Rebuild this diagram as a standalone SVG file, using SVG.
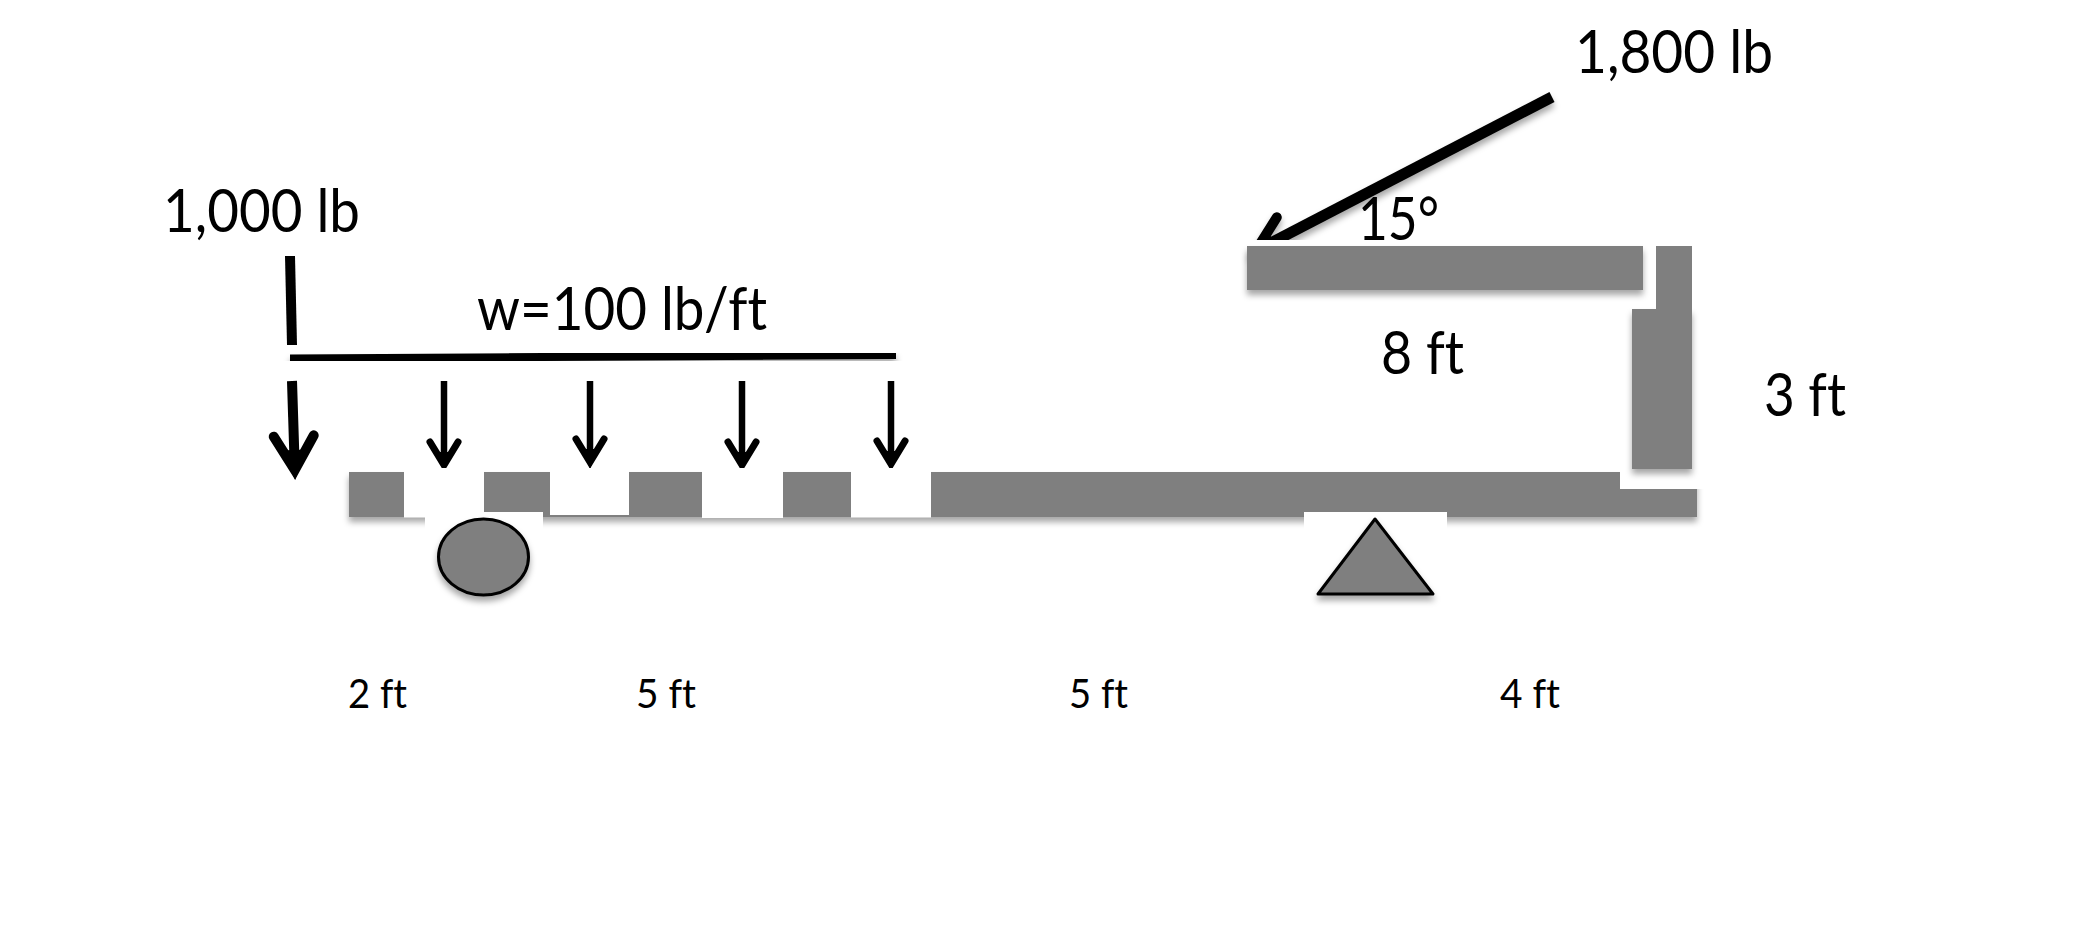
<svg xmlns="http://www.w3.org/2000/svg" width="2077" height="925" viewBox="0 0 2077 925">
<style>
text{font-family:Lato,"Open Sans","Liberation Sans",sans-serif;fill:#000;font-variant-ligatures:none}
.lg{font-size:60px}
.sm{font-size:41px}
.g{fill:#7f7f7f}
.w{fill:#fff}
.o{stroke:#000;stroke-width:3;fill:#7f7f7f}
.sh{filter:url(#shadow)}
.a{fill:none;stroke:#000;stroke-width:6.500}
.al{fill:none;stroke:#000;stroke-width:10}
.ad{fill:none;stroke:#000;stroke-width:11}
</style>
<defs>
<filter id="shadow" x="-20%" y="-30%" width="140%" height="180%"><feDropShadow dx="0" dy="5" stdDeviation="3" flood-color="#000" flood-opacity="0.35"/></filter>
<marker id="hs" markerUnits="userSpaceOnUse" viewBox="-40 -22 48 44" markerWidth="48" markerHeight="44" refX="-12" refY="0" orient="auto"><path d="M-19,-7.500L1,0L-19,7.500Z" fill="#000"/><path d="M-29,-14L-6,0L-29,14" fill="none" stroke="#000" stroke-width="7" stroke-linecap="round" stroke-miterlimit="10"/></marker>
<marker id="hl" markerUnits="userSpaceOnUse" viewBox="-56 -30 64 60" markerWidth="64" markerHeight="60" refX="-24" refY="0" orient="auto"><path d="M-28,-12L2,0L-28,12Z" fill="#000"/><path d="M-42,-20L-8,0L-42,20" fill="none" stroke="#000" stroke-width="10" stroke-linecap="round" stroke-miterlimit="10"/></marker>
</defs>
<rect width="2077" height="925" fill="#fff"/>
<g id="connectors">
<path class="al" d="M290,256L292,345"/>
<path class="al" marker-end="url(#hl)" d="M292,381L294.300,454"/>
<path class="a" marker-end="url(#hs)" d="M444,381V459"/>
<path class="a" marker-end="url(#hs)" d="M590,381V456"/>
<path class="a" marker-end="url(#hs)" d="M742,381V459"/>
<path class="a" marker-end="url(#hs)" d="M891,381V458"/>
<path class="ad sh" marker-end="url(#hl)" d="M1552,97L1270,243.400"/>
</g>
<g id="load-line"><path class="sh" d="M290,358.500L896,355" fill="none" stroke="#000" stroke-width="8"/></g>
<g id="beam">
<rect class="g sh" x="349" y="472" width="1348" height="45"/>
<rect class="w" x="404" y="468" width="80" height="49.500"/>
<rect class="w" x="550" y="468" width="79" height="47"/>
<rect class="w" x="702" y="468" width="81" height="50"/>
<rect class="w" x="851" y="468" width="80" height="49.500"/>
<rect class="w" x="1620" y="468" width="85" height="21"/>
</g>
<g id="label-15"><text class="lg" x="1358" y="240" textLength="81" lengthAdjust="spacingAndGlyphs">15°</text></g>
<rect id="top-halo" class="w" x="1233" y="240" width="425" height="6"/>
<g id="top-bar"><rect class="g sh" x="1247" y="246" width="396" height="44"/></g>
<g id="post">
<rect class="g sh" x="1632" y="309" width="60" height="160"/>
<rect class="g" x="1656" y="246" width="36" height="70"/>
</g>
<g id="roller">
<rect class="w" x="425" y="512" width="118" height="20"/>
<ellipse class="o sh" cx="483.500" cy="557" rx="45" ry="38"/>
</g>
<g id="pin">
<rect class="w" x="1304" y="512" width="143" height="18"/>
<path class="o sh" d="M1375,519L1433,594H1318Z" stroke-linejoin="round"/>
</g>
<g id="labels">
<text class="lg" x="163" y="232" textLength="197" lengthAdjust="spacingAndGlyphs">1,000 lb</text>
<text class="lg" x="1575" y="73" textLength="198" lengthAdjust="spacingAndGlyphs">1,800 lb</text>
<text class="lg" x="477" y="330" textLength="290" lengthAdjust="spacingAndGlyphs">w=100 lb/ft</text>
<text class="lg" x="1381" y="374" textLength="83" lengthAdjust="spacingAndGlyphs">8 ft</text>
<text class="lg" x="1764" y="416" textLength="82" lengthAdjust="spacingAndGlyphs">3 ft</text>
<text class="sm" x="348" y="708" textLength="59" lengthAdjust="spacingAndGlyphs">2 ft</text>
<text class="sm" x="636" y="708" textLength="60" lengthAdjust="spacingAndGlyphs">5 ft</text>
<text class="sm" x="1069" y="708" textLength="59" lengthAdjust="spacingAndGlyphs">5 ft</text>
<text class="sm" x="1500" y="708" textLength="60" lengthAdjust="spacingAndGlyphs">4 ft</text>
</g>
</svg>
